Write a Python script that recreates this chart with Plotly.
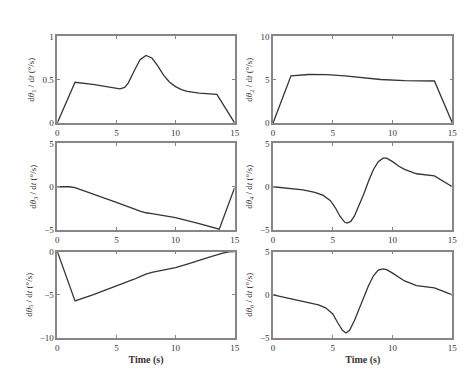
import plotly.graph_objects as go

# ---- data ----
t1 = [0, 1.5, 3, 5, 5.3, 5.7, 6, 6.5, 7, 7.5, 8, 8.5, 9, 9.5, 10, 10.5, 11, 12, 13, 13.5, 15]
v1 = [0, 0.47, 0.445, 0.40, 0.395, 0.41, 0.46, 0.60, 0.73, 0.78, 0.75, 0.66, 0.55, 0.47, 0.42, 0.385, 0.365, 0.345, 0.335, 0.33, 0]

t2 = [0, 1.5, 3, 4.5, 6, 7.5, 9, 11, 13.5, 15]
v2 = [0, 5.45, 5.6, 5.58, 5.45, 5.2, 5.02, 4.9, 4.85, 0]

t3 = [0, 1, 1.5, 3, 5, 7, 7.5, 8, 9, 10, 12, 13.7, 15]
v3 = [0, 0, -0.1, -0.8, -1.8, -2.8, -3.0, -3.1, -3.3, -3.55, -4.25, -4.9, -0.1]

t4 = [0, 1.5, 2.5, 3.5, 4.2, 4.8, 5.2, 5.6, 6.0, 6.2, 6.5, 6.8, 7.2, 7.6, 8.0, 8.4, 8.8, 9.2, 9.5, 10, 10.5, 11, 12, 13, 13.5, 15]
v4 = [0, -0.2, -0.35, -0.65, -1.0, -1.6, -2.4, -3.4, -4.1, -4.2, -4.0, -3.4, -2.2, -0.8, 0.7, 2.0, 2.9, 3.3, 3.3, 2.9, 2.4, 2.0, 1.5, 1.3, 1.25, 0]

t5 = [0, 1.5, 3, 5, 6, 6.5, 7, 7.5, 8, 8.5, 9, 10, 11, 12, 13, 14, 14.5, 15]
v5 = [0, -5.7, -5.0, -4.0, -3.5, -3.2, -2.9, -2.6, -2.4, -2.25, -2.15, -1.85, -1.45, -1.0, -0.6, -0.2, -0.05, 0]

t6 = [0, 1, 2, 3, 3.8, 4.4, 5.0, 5.4, 5.8, 6.1, 6.4, 6.8, 7.2, 7.6, 8.0, 8.4, 8.8, 9.2, 9.5, 10, 10.5, 11, 12, 13, 13.5, 15]
v6 = [0, -0.3, -0.6, -0.85, -1.15, -1.5, -2.2, -3.2, -4.1, -4.4, -4.1, -3.0, -1.6, -0.2, 1.1, 2.2, 2.85, 3.0, 2.9, 2.5, 2.0, 1.6, 1.05, 0.85, 0.8, 0]

series = [(t1, v1), (t2, v2), (t3, v3), (t4, v4), (t5, v5), (t6, v6)]
yranges = [[0, 1], [0, 10], [-5, 5], [-5, 5], [-10, 0], [-5, 5]]
ytickvals = [[0, 0.5, 1], [0, 5, 10], [-5, 0, 5], [-5, 0, 5], [-10, -5, 0], [-5, 0, 5]]
yticktext = [["0", "0.5", "1"], ["0", "5", "10"], ["−5", "0", "5"], ["−5", "0", "5"], ["−10", "−5", "0"], ["−5", "0", "5"]]
xtickvals = [0, 5, 10, 15]
xticktext = ["0", "5", "10", "15"]
ylabels = ["1", "2", "3", "4", "5", "6"]
xlabel = "Time (s)"

W, H = 474, 377
xcols = [(48, 228), (267, 449)]
yrows = [(24, 113), (134, 223), (245, 334)]

FONT = "Liberation Serif"
LINE = "#3b3232"
FRAME = "#8a8585"
TXT = "#3b3232"

fig = go.Figure()
for i, (t, v) in enumerate(series):
    r, c = divmod(i, 2)
    n = i + 1
    xa = "xaxis" if n == 1 else f"xaxis{n}"
    ya = "yaxis" if n == 1 else f"yaxis{n}"
    xref = "x" if n == 1 else f"x{n}"
    yref = "y" if n == 1 else f"y{n}"
    fig.add_trace(go.Scatter(x=t, y=v, mode="lines", line=dict(color=LINE, width=1.3),
                             xaxis=xref, yaxis=yref, showlegend=False, hoverinfo="skip"))
    x0, x1 = xcols[c]
    y0, y1 = yrows[r]
    common = dict(showgrid=False, zeroline=False, showline=True, linecolor=FRAME, linewidth=1.5,
                  mirror="ticks", ticks="inside", ticklen=3, tickwidth=1, tickcolor=FRAME,
                  tickfont=dict(family=FONT, size=9, color=TXT), fixedrange=True)
    xdict = dict(domain=[x0 / W, x1 / W], range=[0, 15], anchor=yref,
                 tickvals=xtickvals, ticktext=xticktext, **common)
    if r == 2:
        xdict["title"] = dict(text=f"<b>{xlabel}</b>", standoff=4,
                              font=dict(family=FONT, size=10, color=TXT))
    fig.layout[xa] = xdict
    fig.layout[ya] = dict(domain=[1 - y1 / H, 1 - y0 / H], range=yranges[i], anchor=xref,
                          tickvals=ytickvals[i], ticktext=yticktext[i],
                          title=dict(text=f"d<i>θ</i><sub>{ylabels[i]}</sub> / d<i>t</i> (°/s)",
                                     standoff=6, font=dict(family=FONT, size=9, color=TXT)),
                          **common)

fig.update_layout(width=W, height=H, margin=dict(l=0, r=0, t=0, b=0),
                  paper_bgcolor="white", plot_bgcolor="white")
fig.write_html("out.html")
